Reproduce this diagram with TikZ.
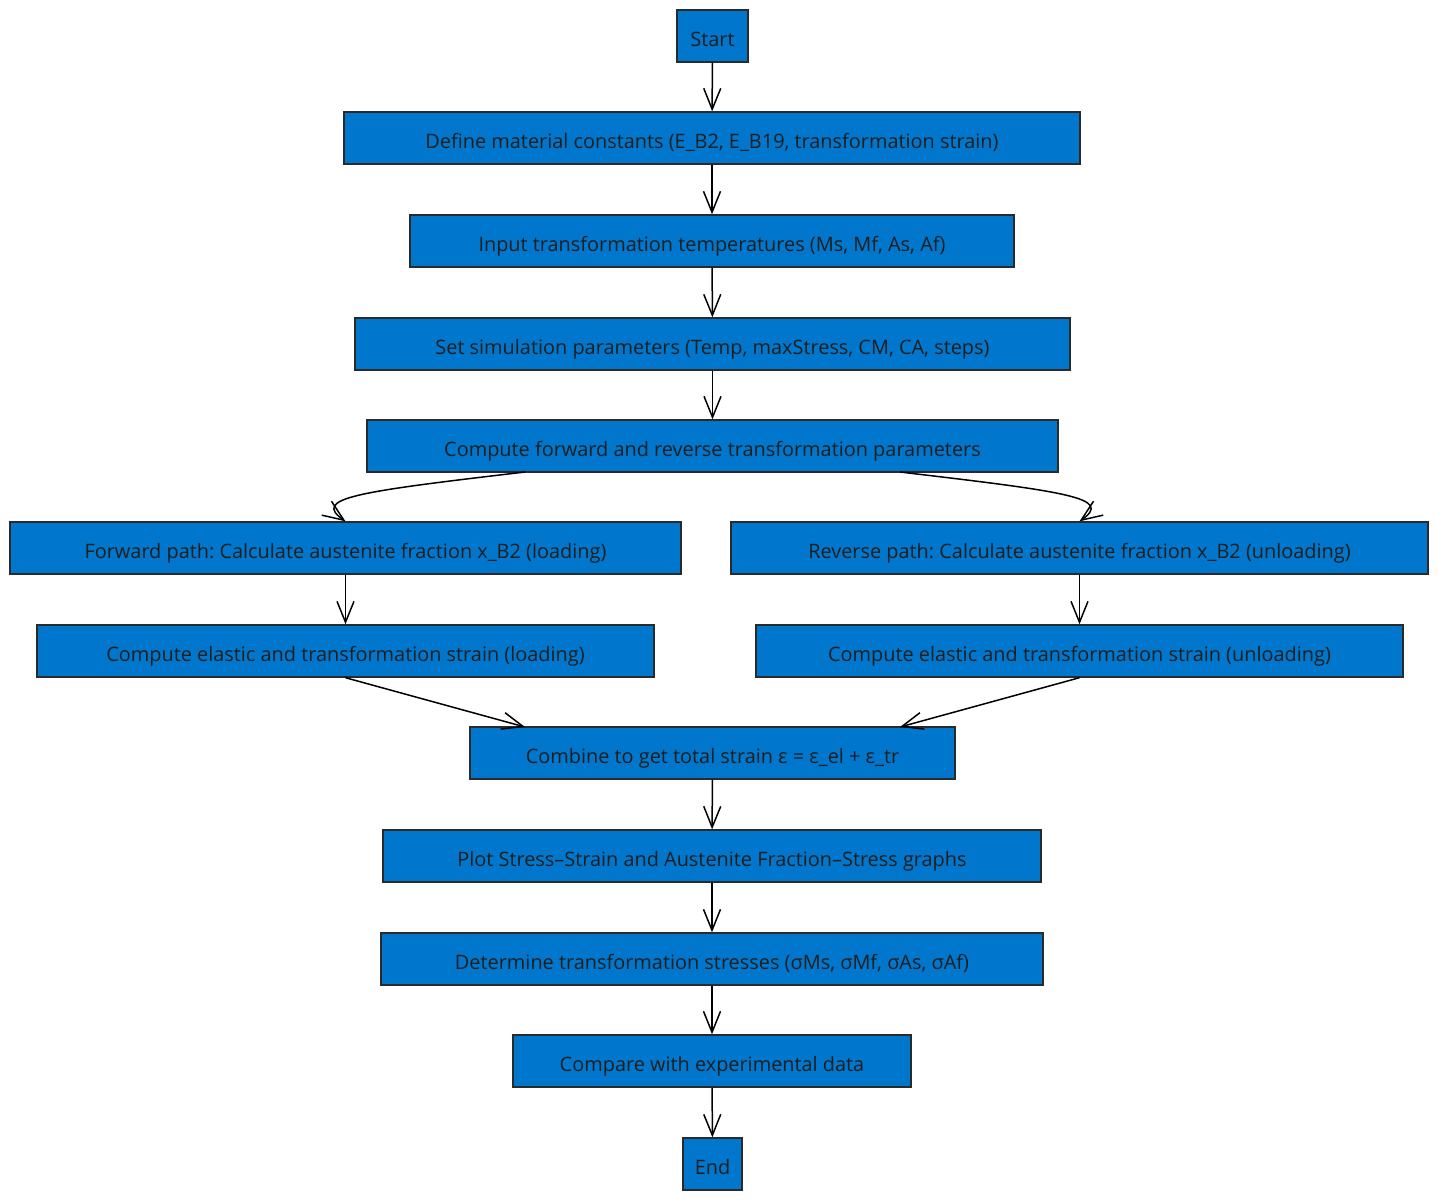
\documentclass[tikz,border=0pt]{standalone}
\usepackage{fontspec}
\setmainfont{Open Sans}
\usetikzlibrary{arrows.meta}
\definecolor{boxfill}{HTML}{0077CC}
\definecolor{boxline}{HTML}{2A2A2A}
\definecolor{boxtext}{HTML}{1E1E1E}
\frenchspacing
\tikzset{
  box/.style={draw=boxline, line width=1.4pt, fill=boxfill, text=boxtext,
    minimum height=52pt, inner sep=0pt, text height=20.5pt, text depth=0pt,
    anchor=center, font=\fontsize{19.9}{22}\selectfont},
  conn/.style={draw=black, line width=1.5pt, -{Straight Barb[length=21pt,width=17pt,line width=1.5pt]}},
}
\begin{document}
\begin{tikzpicture}[x=1pt,y=-1pt]
\useasboundingbox (0,0) rectangle (1438,1200);
\node[box, minimum width=71pt]  (start) at (712.5,36) {Start};
\node[box, minimum width=736pt] (def) at (712,138) {Define material constants (E\_B2, E\_B19, transformation strain)};
\node[box, minimum width=604pt] (inp) at (712,241) {Input transformation temperatures (Ms, Mf, As, Af)};
\node[box, minimum width=715pt] (set) at (712.5,344) {Set simulation parameters (Temp, maxStress, CM, CA, steps)};
\node[box, minimum width=691pt] (cmp) at (712.5,446) {Compute forward and reverse transformation parameters};
\node[box, minimum width=671pt] (fwd) at (345.5,548) {Forward path: Calculate austenite fraction x\_B2 (loading)};
\node[box, minimum width=697pt] (rev) at (1079.5,548) {Reverse path: Calculate austenite fraction x\_B2 (unloading)};
\node[box, minimum width=617pt] (el) at (345.5,651) {Compute elastic and transformation strain (loading)};
\node[box, minimum width=647pt] (eu) at (1079.5,651) {Compute elastic and transformation strain (unloading)};
\node[box, minimum width=485pt] (comb) at (712.5,753) {Combine to get total strain ε = ε\_el + ε\_tr};
\node[box, minimum width=658pt] (plot) at (712,856) {Plot Stress–Strain and Austenite Fraction–Stress graphs};
\node[box, minimum width=662pt] (det) at (712,959) {Determine transformation stresses (σMs, σMf, σAs, σAf)};
\node[box, minimum width=398pt] (cmpx) at (712,1061) {Compare with experimental data};
\node[box, minimum width=59pt]  (end) at (712.5,1164) {End};

\draw[conn] (start) -- (def);
\draw[conn] (def) -- (inp);
\draw[conn] (inp) -- (set);
\draw[conn] (set) -- (cmp);
\coordinate (c1) at (525,472);
\coordinate (c2) at (900,472);
\draw[conn] (c1) .. controls (355,492) and (312,498) .. (fwd.north);
\draw[conn] (c2) .. controls (1070,492) and (1113,498) .. (rev.north);
\draw[conn] (fwd) -- (el);
\draw[conn] (rev) -- (eu);
\coordinate (d1) at (525,727);
\coordinate (d2) at (900,727);
\draw[conn] (el.south) -- (d1);
\draw[conn] (eu.south) -- (d2);
\draw[conn] (comb) -- (plot);
\draw[conn] (plot) -- (det);
\draw[conn] (det) -- (cmpx);
\draw[conn] (cmpx) -- (end);
\end{tikzpicture}
\end{document}
